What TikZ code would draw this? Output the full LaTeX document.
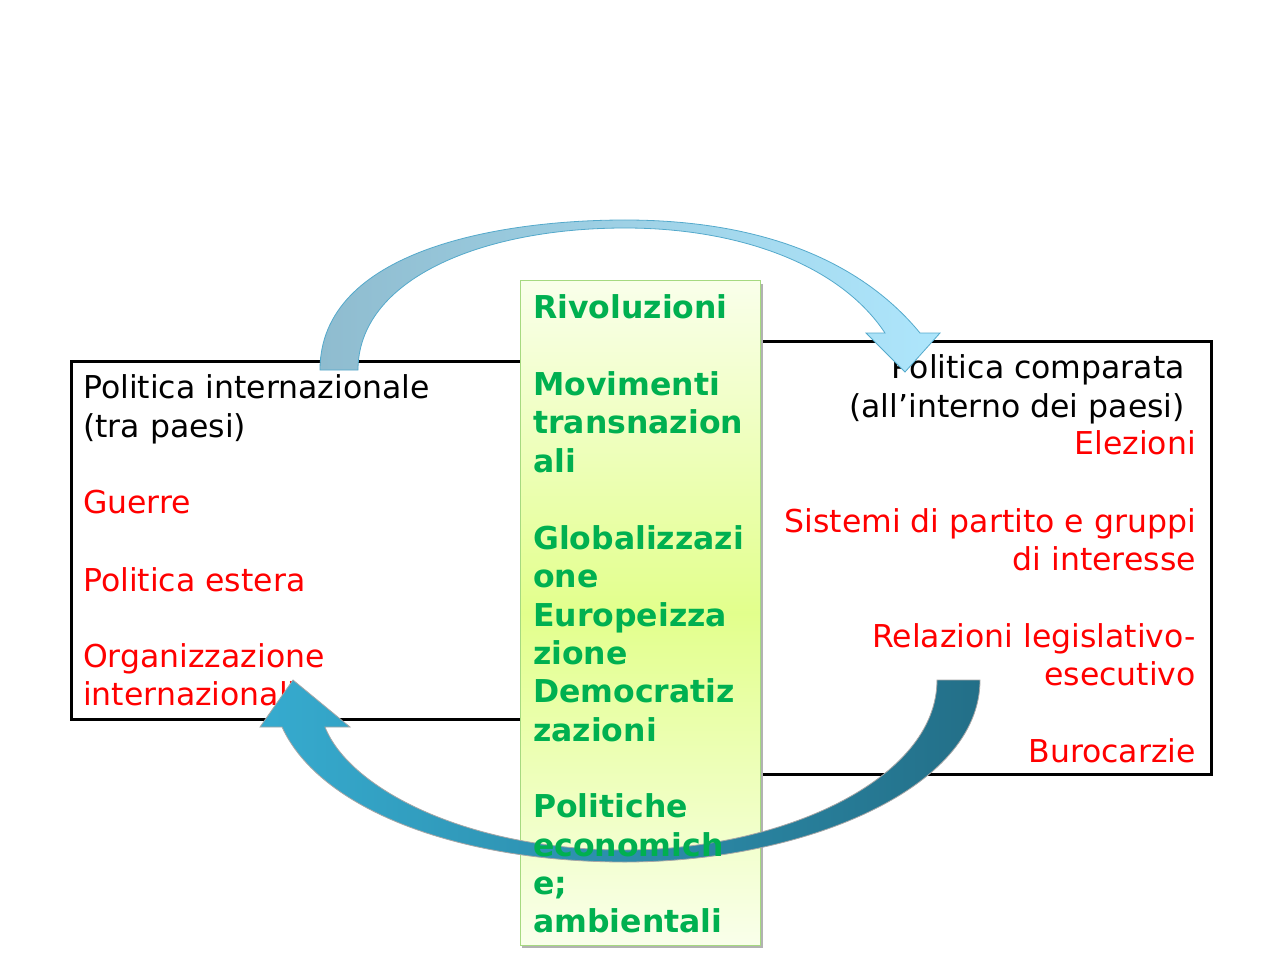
\documentclass[tikz,border=0pt]{standalone}
\usepackage{fontspec}
\setmainfont{DejaVu Sans}
\begin{document}
\begin{tikzpicture}[x=1pt,y=-1pt,
  txt/.style={font=\fontsize{31.5}{36}\selectfont, inner sep=0pt},
  lt/.style={txt, anchor=base west},
  rt/.style={txt, anchor=base east},
  gt/.style={txt, anchor=base west, font=\fontsize{31.5}{36}\selectfont\bfseries, text=grn},
  box/.style={draw=black, line width=2.5pt, fill=white}]
\definecolor{grn}{HTML}{00B050}
\definecolor{rd}{HTML}{FF0000}
\definecolor{ta}{HTML}{8FBCCF}
\definecolor{tb}{HTML}{AEE6FC}
\definecolor{ba}{HTML}{36ABCF}
\definecolor{bb}{HTML}{236F88}
\useasboundingbox (0,0) rectangle (1280,960);
\node[box, minimum width=450, minimum height=358, anchor=north west, inner sep=0] (lbox) at (70,360) {};
\node[box, minimum width=450, minimum height=433, anchor=north west, inner sep=0] (rbox) at (760,340) {};
% left texts
\node[lt] (l1) at (83,398) {Politica internazionale};
\node[lt] (l2) at (83,437) {(tra paesi)};
\node[lt, text=rd] (l3) at (83,513) {Guerre};
\node[lt, text=rd] (l4) at (83,591) {Politica estera};
\node[lt, text=rd] (l5) at (83,667) {Organizzazione};
\node[lt, text=rd] (l6) at (83,705) {internazionali};
% right texts
\node[rt] (r1) at (1185,378) {Politica comparata};
\node[rt] (r2) at (1185,417) {(all’interno dei paesi)};
\node[rt, text=rd] (r3) at (1196,454) {Elezioni};
\node[rt, text=rd] (r4) at (1196,532) {Sistemi di partito e gruppi};
\node[rt, text=rd] (r5) at (1196,570) {di interesse};
\node[rt, text=rd] (r6) at (1196,647) {Relazioni legislativo-};
\node[rt, text=rd] (r7) at (1196,685) {esecutivo};
\node[rt, text=rd] (r8) at (1196,762) {Burocarzie};
% middle box
\fill[gray!60] (522,284) rectangle (763,948);
\node[draw=green!40!olive!50, line width=0.8pt, minimum width=240, minimum height=665, anchor=north west, inner sep=0,
  top color=green!3!lime!8, bottom color=green!3!lime!8, middle color=lime!45!white] (mbox) at (520,280) {};
% top arrow
\path[draw=cyan!60!gray, line width=0.8pt, left color=ta, right color=tb]
  (320,370) .. controls (320,250) and (500,220) .. (625,220)
  .. controls (760,220) and (860,260) .. (920,333)
  -- (940,333) -- (905,372) -- (866,333) -- (885,333)
  .. controls (840,265) and (740,228) .. (625,228)
  .. controls (480,228) and (358,280) .. (358,370) -- cycle;
% bottom arrow
\path[draw=gray!70, line width=0.8pt, left color=ba, right color=bb]
  (937,680) .. controls (937,780) and (780,850) .. (625,850)
  .. controls (470,850) and (350,790) .. (325,727)
  -- (350,727) -- (293,680) -- (260,727) -- (282,727)
  .. controls (320,810) and (460,862) .. (625,862)
  .. controls (800,862) and (980,790) .. (980,680) -- cycle;
% middle texts
\node[gt] (m1) at (533,318) {Rivoluzioni};
\node[gt] (m2) at (533,395) {Movimenti};
\node[gt] (m3) at (533,433) {transnazion};
\node[gt] (m4) at (533,472) {ali};
\node[gt] (m5) at (533,549) {Globalizzazi};
\node[gt] (m6) at (533,587) {one};
\node[gt] (m7) at (533,626) {Europeizza};
\node[gt] (m8) at (533,664) {zione};
\node[gt] (m9) at (533,702) {Democratiz};
\node[gt] (m10) at (533,741) {zazioni};
\node[gt] (m11) at (533,817) {Politiche};
\node[gt] (m12) at (533,856) {economich};
\node[gt] (m13) at (533,894) {e;};
\node[gt] (m14) at (533,932) {ambientali};
\end{tikzpicture}
\end{document}
